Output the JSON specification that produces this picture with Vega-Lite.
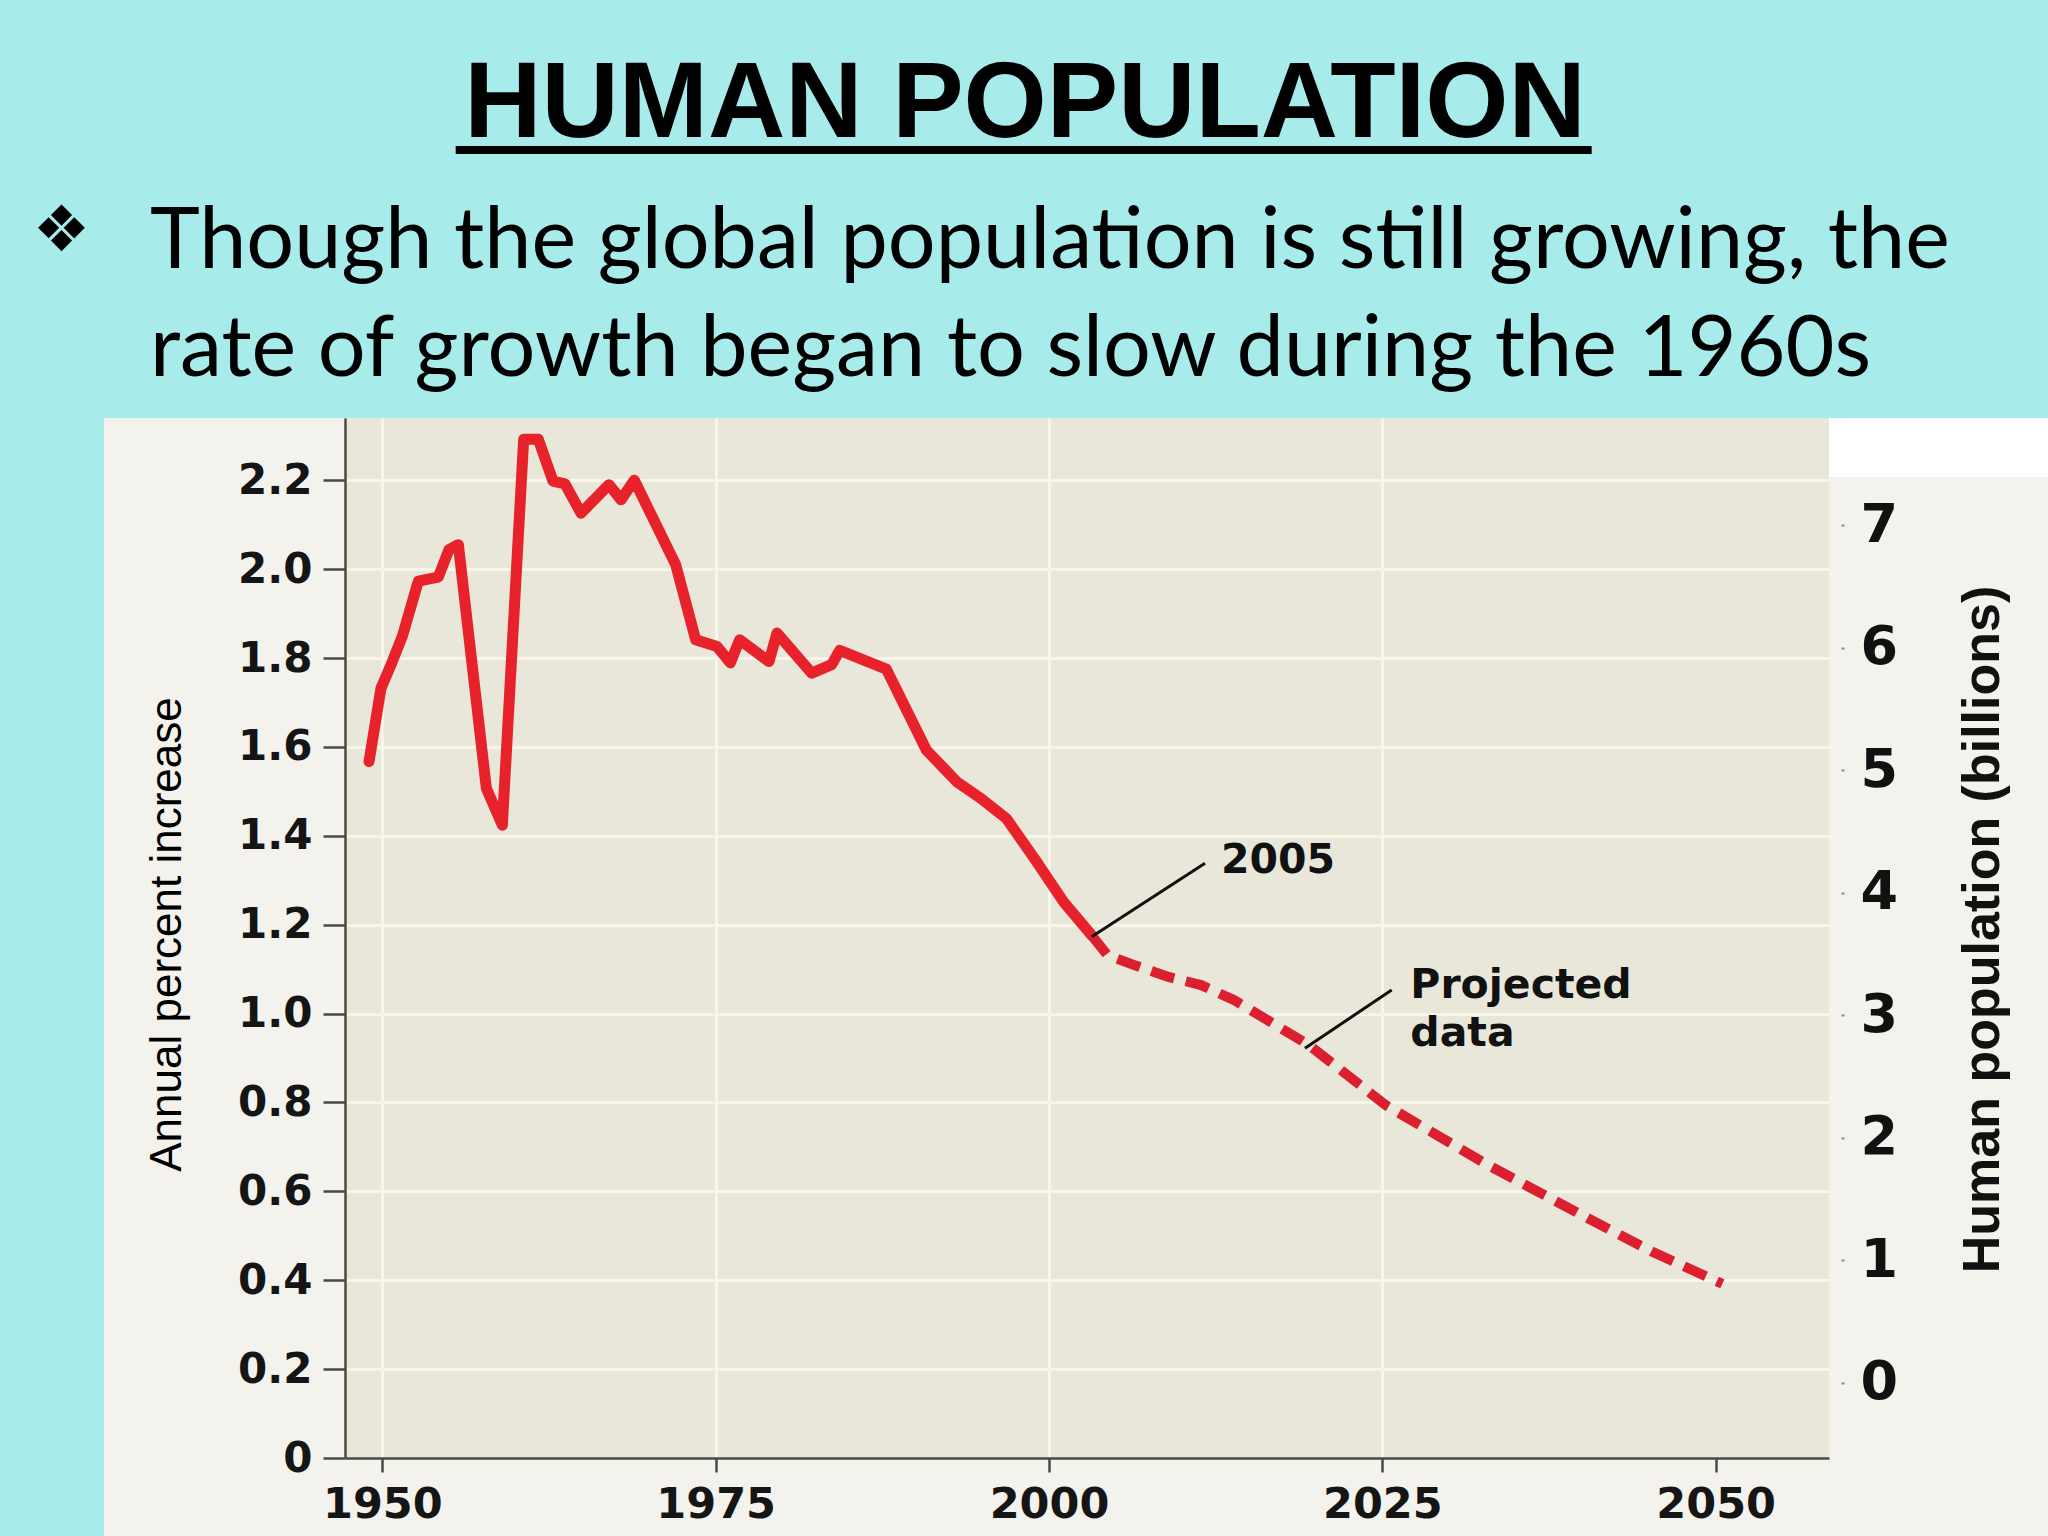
{
  "$schema": "https://vega.github.io/schema/vega-lite/v6.json",
  "autosize": {"type": "none"},
  "padding": {"left": 345, "top": 418, "right": 219, "bottom": 78},
  "width": 1484,
  "height": 1040,
  "background": "#f4f2ed",
  "config": {"view": {"fill": "#e9e6da", "stroke": null}},
  "datasets": {
    "growth": [
      {"year": 1949.0, "rate": 1.567, "seg": "observed"},
      {"year": 1949.9, "rate": 1.732, "seg": "observed"},
      {"year": 1950.6, "rate": 1.781, "seg": "observed"},
      {"year": 1951.5, "rate": 1.849, "seg": "observed"},
      {"year": 1952.7, "rate": 1.973, "seg": "observed"},
      {"year": 1954.2, "rate": 1.982, "seg": "observed"},
      {"year": 1955.0, "rate": 2.044, "seg": "observed"},
      {"year": 1955.7, "rate": 2.055, "seg": "observed"},
      {"year": 1957.8, "rate": 1.507, "seg": "observed"},
      {"year": 1959.0, "rate": 1.424, "seg": "observed"},
      {"year": 1960.6, "rate": 2.292, "seg": "observed"},
      {"year": 1961.7, "rate": 2.292, "seg": "observed"},
      {"year": 1962.8, "rate": 2.198, "seg": "observed"},
      {"year": 1963.7, "rate": 2.192, "seg": "observed"},
      {"year": 1964.9, "rate": 2.126, "seg": "observed"},
      {"year": 1967.0, "rate": 2.190, "seg": "observed"},
      {"year": 1967.9, "rate": 2.156, "seg": "observed"},
      {"year": 1968.9, "rate": 2.200, "seg": "observed"},
      {"year": 1972.0, "rate": 2.010, "seg": "observed"},
      {"year": 1973.5, "rate": 1.841, "seg": "observed"},
      {"year": 1975.1, "rate": 1.826, "seg": "observed"},
      {"year": 1976.1, "rate": 1.789, "seg": "observed"},
      {"year": 1976.8, "rate": 1.841, "seg": "observed"},
      {"year": 1979.0, "rate": 1.792, "seg": "observed"},
      {"year": 1979.6, "rate": 1.856, "seg": "observed"},
      {"year": 1982.2, "rate": 1.766, "seg": "observed"},
      {"year": 1983.7, "rate": 1.785, "seg": "observed"},
      {"year": 1984.3, "rate": 1.817, "seg": "observed"},
      {"year": 1987.8, "rate": 1.775, "seg": "observed"},
      {"year": 1990.8, "rate": 1.593, "seg": "observed"},
      {"year": 1993.1, "rate": 1.521, "seg": "observed"},
      {"year": 1994.9, "rate": 1.484, "seg": "observed"},
      {"year": 1996.8, "rate": 1.439, "seg": "observed"},
      {"year": 1998.9, "rate": 1.349, "seg": "observed"},
      {"year": 2001.1, "rate": 1.251, "seg": "observed"},
      {"year": 2003.2, "rate": 1.176, "seg": "observed"},
      {"year": 2003.2, "rate": 1.176, "seg": "projected"},
      {"year": 2004.4, "rate": 1.131, "seg": "projected"},
      {"year": 2006.4, "rate": 1.109, "seg": "projected"},
      {"year": 2008.9, "rate": 1.083, "seg": "projected"},
      {"year": 2011.4, "rate": 1.064, "seg": "projected"},
      {"year": 2013.9, "rate": 1.030, "seg": "projected"},
      {"year": 2016.4, "rate": 0.985, "seg": "projected"},
      {"year": 2019.5, "rate": 0.929, "seg": "projected"},
      {"year": 2025.25, "rate": 0.794, "seg": "projected"},
      {"year": 2032.75, "rate": 0.662, "seg": "projected"},
      {"year": 2040.25, "rate": 0.542, "seg": "projected"},
      {"year": 2045.25, "rate": 0.464, "seg": "projected"},
      {"year": 2050.5, "rate": 0.392, "seg": "projected"}
    ],
    "notes": [
      {"label": "2005", "year": 2012.9, "rate": 1.316},
      {"label": "Projected\ndata", "year": 2027.1, "rate": 1.036}
    ],
    "leaders": [
      {"year": 2003.2, "rate": 1.173, "year2": 2011.7, "rate2": 1.338},
      {"year": 2025.7, "rate": 1.053, "year2": 2019.2, "rate2": 0.922}
    ]
  },
  "layer": [
    {
      "data": {"name": "growth"},
      "transform": [{"filter": "datum.seg === 'observed'"}],
      "mark": {"type": "line", "color": "#e8222b", "strokeWidth": 11, "strokeJoin": "round", "strokeCap": "round"},
      "encoding": {
        "x": {
          "field": "year", "type": "quantitative",
          "scale": {"domain": [1947.2, 2058.5], "nice": false, "zero": false},
          "axis": {
            "orient": "bottom",
            "values": [1950, 1975, 2000, 2025, 2050],
            "format": "d",
            "title": null,
            "labelFont": "DejaVu Sans", "labelFontSize": 43, "labelFontWeight": "bold", "labelColor": "#151515",
            "labelPadding": 11,
            "tickSize": 14, "tickColor": "#4a4a44", "tickWidth": 2.5,
            "domainColor": "#4a4a44", "domainWidth": 2.5,
            "grid": true, "gridColor": "#f8f5eb", "gridWidth": 3,
            "gridOpacity": {"condition": {"test": "datum.value === 2050", "value": 0}, "value": 1}
          }
        },
        "y": {
          "field": "rate", "type": "quantitative",
          "scale": {"domain": [0, 2.34], "nice": false, "zero": false},
          "axis": {
            "orient": "left",
            "values": [0, 0.2, 0.4, 0.6, 0.8, 1.0, 1.2, 1.4, 1.6, 1.8, 2.0, 2.2],
            "labelExpr": "datum.value === 0 ? '0' : format(datum.value, '.1f')",
            "title": "Annual percent increase",
            "titleFont": "Liberation Sans", "titleFontSize": 44, "titleFontWeight": "normal", "titleColor": "#000000",
            "titleAngle": 270, "titleX": -165, "titleY": 516, "titleAlign": "center", "titleBaseline": "alphabetic",
            "labelFont": "DejaVu Sans", "labelFontSize": 42, "labelFontWeight": "bold", "labelColor": "#151515",
            "labelPadding": 11,
            "tickSize": 22, "tickColor": "#4a4a44", "tickWidth": 2.5,
            "domainColor": "#4a4a44", "domainWidth": 2.5,
            "grid": true, "gridColor": "#f8f5eb", "gridWidth": 3
          }
        }
      }
    },
    {
      "data": {"name": "growth"},
      "transform": [{"filter": "datum.seg === 'projected'"}],
      "mark": {"type": "line", "color": "#dc1f2e", "strokeWidth": 10, "strokeDash": [24, 12], "strokeCap": "butt"},
      "encoding": {
        "x": {"field": "year", "type": "quantitative"},
        "y": {"field": "rate", "type": "quantitative", "scale": {"domain": [0, 2.34], "nice": false, "zero": false}, "axis": null}
      }
    },
    {
      "data": {"values": [{"pop": 0}, {"pop": 7}]},
      "mark": {"type": "point", "opacity": 0},
      "encoding": {
        "y": {
          "field": "pop", "type": "quantitative",
          "scale": {"domain": [-0.614, 7.876], "nice": false, "zero": false},
          "axis": {
            "orient": "right",
            "offset": 12,
            "values": [0, 1, 2, 3, 4, 5, 6, 7],
            "format": "d",
            "domain": false,
            "grid": false,
            "tickSize": 3, "tickColor": "#8a8a8a", "tickWidth": 2,
            "labelPadding": 16,
            "labelFont": "DejaVu Sans", "labelFontSize": 54, "labelFontWeight": "bold", "labelColor": "#111111",
            "title": "Human population (billions)",
            "titleFont": "Liberation Sans", "titleFontSize": 52, "titleFontWeight": "bold", "titleColor": "#111111",
            "titleAngle": 270, "titleX": 157, "titleY": 511, "titleAlign": "center", "titleBaseline": "alphabetic"
          }
        }
      }
    },
    {
      "data": {"values": [{"part": "slide top"}]},
      "mark": {"type": "rect", "color": "#a8ebeb", "clip": false},
      "encoding": {
        "x": {"datum": 1921.3, "type": "quantitative"},
        "x2": {"datum": 2075.0},
        "y": {"datum": 3.29, "type": "quantitative", "scale": {"domain": [0, 2.34], "nice": false, "zero": false}, "axis": null},
        "y2": {"datum": 2.34}
      }
    },
    {
      "data": {"values": [{"part": "slide left"}]},
      "mark": {"type": "rect", "color": "#a8ebeb", "clip": false},
      "encoding": {
        "x": {"datum": 1921.3, "type": "quantitative"},
        "x2": {"datum": 1929.12},
        "y": {"datum": 2.34, "type": "quantitative", "scale": {"domain": [0, 2.34], "nice": false, "zero": false}, "axis": null},
        "y2": {"datum": -0.18}
      }
    },
    {
      "data": {"values": [{"part": "white corner"}]},
      "mark": {"type": "rect", "color": "#ffffff", "clip": false},
      "encoding": {
        "x": {"datum": 2058.5, "type": "quantitative"},
        "x2": {"datum": 2075.0},
        "y": {"datum": 2.34, "type": "quantitative", "scale": {"domain": [0, 2.34], "nice": false, "zero": false}, "axis": null},
        "y2": {"datum": 2.207}
      }
    },
    {
      "data": {"name": "leaders"},
      "mark": {"type": "rule", "color": "#111111", "strokeWidth": 3},
      "encoding": {
        "x": {"field": "year", "type": "quantitative"},
        "x2": {"field": "year2"},
        "y": {"field": "rate", "type": "quantitative", "scale": {"domain": [0, 2.34], "nice": false, "zero": false}, "axis": null},
        "y2": {"field": "rate2"}
      }
    },
    {
      "data": {"name": "notes"},
      "mark": {"type": "text", "font": "DejaVu Sans", "fontSize": 41, "fontWeight": "bold", "color": "#111111", "align": "left", "baseline": "alphabetic", "lineBreak": "\n", "lineHeight": 48},
      "encoding": {
        "x": {"field": "year", "type": "quantitative"},
        "y": {"field": "rate", "type": "quantitative", "scale": {"domain": [0, 2.34], "nice": false, "zero": false}, "axis": null},
        "text": {"field": "label"}
      }
    },
    {
      "data": {"values": [{"t": "HUMAN POPULATION"}]},
      "mark": {"type": "text", "font": "Liberation Sans", "fontSize": 107, "fontWeight": "bold", "color": "#000000", "align": "center", "baseline": "alphabetic", "clip": false},
      "encoding": {
        "x": {"datum": 1998.2, "type": "quantitative"},
        "y": {"datum": 2.972, "type": "quantitative", "scale": {"domain": [0, 2.34], "nice": false, "zero": false}, "axis": null},
        "text": {"field": "t"}
      }
    },
    {
      "data": {"values": [{"t": "title underline"}]},
      "mark": {"type": "rule", "color": "#000000", "strokeWidth": 8, "clip": false},
      "encoding": {
        "x": {"datum": 1955.5, "type": "quantitative"},
        "x2": {"datum": 2040.7},
        "y": {"datum": 2.943, "type": "quantitative", "scale": {"domain": [0, 2.34], "nice": false, "zero": false}, "axis": null}
      }
    },
    {
      "data": {"values": [{"t": "❖"}]},
      "mark": {"type": "text", "font": "DejaVu Sans", "fontSize": 64, "color": "#000000", "align": "center", "baseline": "middle", "clip": false},
      "encoding": {
        "x": {"datum": 1925.94, "type": "quantitative"},
        "y": {"datum": 2.758, "type": "quantitative", "scale": {"domain": [0, 2.34], "nice": false, "zero": false}, "axis": null},
        "text": {"field": "t"}
      }
    },
    {
      "data": {"values": [{"t": "Though the global population is still growing, the"}]},
      "mark": {"type": "text", "font": "Lato", "fontSize": 84.5, "color": "#000000", "align": "left", "baseline": "alphabetic", "clip": false},
      "encoding": {
        "x": {"datum": 1932.575, "type": "quantitative"},
        "y": {"datum": 2.6775, "type": "quantitative", "scale": {"domain": [0, 2.34], "nice": false, "zero": false}, "axis": null},
        "text": {"field": "t"}
      }
    },
    {
      "data": {"values": [{"t": "rate of growth began to slow during the 1960s"}]},
      "mark": {"type": "text", "font": "Lato", "fontSize": 84.5, "color": "#000000", "align": "left", "baseline": "alphabetic", "clip": false},
      "encoding": {
        "x": {"datum": 1932.575, "type": "quantitative"},
        "y": {"datum": 2.4345, "type": "quantitative", "scale": {"domain": [0, 2.34], "nice": false, "zero": false}, "axis": null},
        "text": {"field": "t"}
      }
    }
  ],
  "resolve": {"scale": {"y": "independent"}}
}
